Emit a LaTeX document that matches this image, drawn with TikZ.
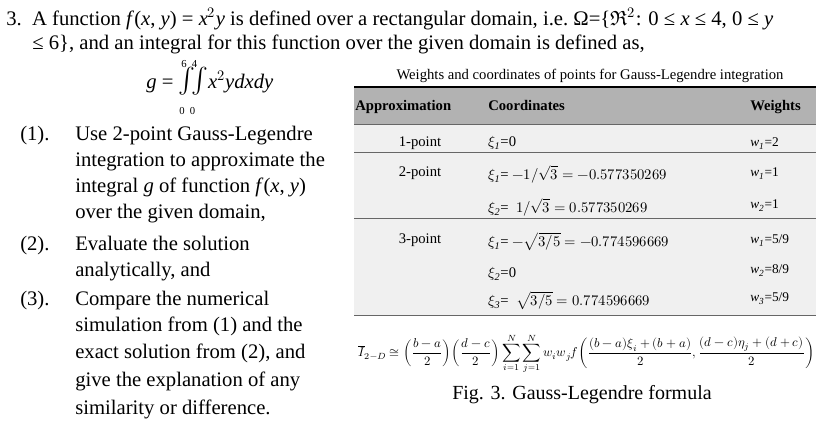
\documentclass[tikz,border=0pt]{standalone}
\usepackage{amsmath,amssymb}
\usepackage{fontspec}
\setmainfont{Liberation Serif}
\usepackage{unicode-math}
\setmathfont{Latin Modern Math}
\begin{document}
\begin{tikzpicture}[x=0.75pt,y=-0.75pt,
  big/.style={anchor=base west,font=\fontsize{15.5}{17}\selectfont,inner sep=0},
  sm/.style={anchor=base west,font=\fontsize{11}{13}\selectfont,inner sep=0},
  ws/.style={anchor=base west,font=\fontsize{10}{12}\selectfont,inner sep=0},
  hd/.style={anchor=base west,font=\fontsize{11}{13}\selectfont\bfseries,inner sep=0}]
\useasboundingbox (0,0) rectangle (820,437);
% main text
\node[big] (t1) at (6,25) {3.\ \ A function \textit{f}(\textit{x}, \textit{y}) = \textit{x}$^2$\textit{y} is defined over a rectangular domain, i.e.\ Ω=\{$\Re^2$: 0 ≤ \textit{x} ≤ 4, 0 ≤ \textit{y}};
\node[big] (t2) at (32,49) {≤ 6\}, and an integral for this function over the given domain is defined as,};
\node[big] (g) at (146,88) {\textit{g} = {\fontsize{19}{20}\selectfont$\int\!\!\int$}\textit{x}$^2$\textit{ydxdy}};
\node[sm,font=\fontsize{8}{9}\selectfont] (up) at (181,67) {6\ \ 4};
\node[sm,font=\fontsize{8}{9}\selectfont] (lo) at (179,114) {0\ \ 0};
\foreach \l/\y/\t in {a/140/{(1).},b/250/{(2).},c/305/{(3).}}
  \node[big] (\l) at (20,\y) {\t};
\foreach \y/\t in {140/{Use 2-point Gauss-Legendre},166/{integration to approximate the},192/{integral \textit{g} of function \textit{f}(\textit{x}, \textit{y})},218/{over the given domain,},250/{Evaluate the solution},276/{analytically, and},305/{Compare the numerical},331/{simulation from (1) and the},358/{exact solution from (2), and},386/{give the explanation of any},414/{similarity or difference.}}
  \node[big] at (75,\y) {\t};
% table
\node[sm,anchor=base] (cap) at (590,79) {Weights and coordinates of points for Gauss-Legendre integration};
\fill[black!30] (354,88) rectangle (816,124);
\fill[black!6] (354,124) rectangle (816,315);
\draw[line width=2.2pt] (354,87) -- (816,87);
\draw[black!60] (354,124) -- (816,124);
\draw[black!60] (354,152) -- (816,152);
\draw[black!60] (354,218) -- (816,218);
\draw[black!60] (354,315) -- (816,315);
\node[hd] (h1) at (355,110) {Approximation};
\node[hd] (h2) at (488,110) {Coordinates};
\node[hd] (h3) at (750,110) {Weights};
\node[sm,anchor=base] at (420,146) {1-point};
\node[sm,anchor=base] at (420,176) {2-point};
\node[sm,anchor=base] at (420,243) {3-point};
\node[sm] at (488,146) {$\xi_{\mathit{1}}$=0};
\node[sm] at (488,179) {$\xi_{\mathit{1}}$= $-1/\sqrt{3} = -0.577350269$};
\node[sm] at (488,212) {$\xi_{\mathit{2}}$=\ \ $1/\sqrt{3} = 0.577350269$};
\node[sm] at (488,246) {$\xi_{\mathit{1}}$= $-\sqrt{3/5} = -0.774596669$};
\node[sm] at (488,277) {$\xi_{\mathit{2}}$=0};
\node[sm] at (488,305) {$\xi_{\mathit{3}}$=\ \ $\sqrt{3/5} = 0.774596669$};
\node[ws] at (750,146) {\textit{w}$_{\mathit{1}}$=2};
\node[ws] at (750,176) {\textit{w}$_{\mathit{1}}$=1};
\node[ws] at (750,208) {\textit{w}$_{\mathit{2}}$=1};
\node[ws] at (750,243) {\textit{w}$_{\mathit{1}}$=5/9};
\node[ws] at (750,273) {\textit{w}$_{\mathit{2}}$=8/9};
\node[ws] at (750,301) {\textit{w}$_{\mathit{3}}$=5/9};
% formula
\node[anchor=west,inner sep=0,font=\fontsize{9.6}{11}\selectfont] (f) at (358,354) {$\overline{I}_{2-D}\cong\left(\dfrac{b-a}{2}\right)\!\left(\dfrac{d-c}{2}\right)\displaystyle\sum_{i=1}^{N}\sum_{j=1}^{N}w_iw_jf\!\left(\dfrac{(b-a)\xi_i+(b+a)}{2},\dfrac{(d-c)\eta_j+(d+c)}{2}\right)$};
\node[anchor=base,inner sep=0,font=\fontsize{15}{17}\selectfont] (fc) at (582,399) {Fig. 3. Gauss-Legendre formula};
\end{tikzpicture}
\end{document}
